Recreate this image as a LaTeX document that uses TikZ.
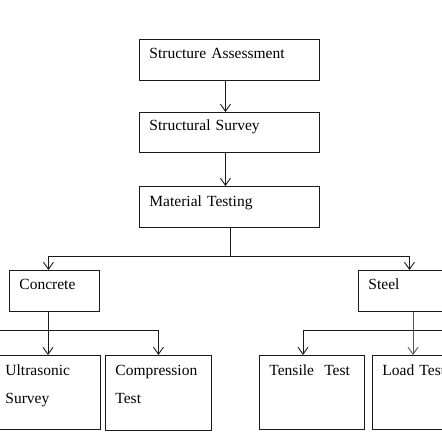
\documentclass[tikz,border=0pt]{standalone}
\usepackage{fontspec}
\setmainfont{Liberation Serif}
\usepackage{tikz}
\usetikzlibrary{arrows.meta,calc,positioning}
\definecolor{ChartInk}{HTML}{1A1A1A}
\definecolor{ChartGray}{HTML}{555555}
\tikzset{
  flow/.style={
    draw=ChartInk,
    line width=.9pt,
    anchor=north west,
    inner xsep=10pt,
    inner ysep=0pt,
    align=left,
    font=\fontsize{15.5}{28}\selectfont
  },
  single/.style={flow,text height=19pt,text depth=22pt},
  double/.style={flow,text height=20pt,text depth=54pt},
  link/.style={draw=ChartInk,line width=.9pt},
  arrow/.style={link,-{Straight Barb[length=7pt,width=10pt]}}
}
\begin{document}
\begin{tikzpicture}[x=1pt,y=-1pt]
  \useasboundingbox (0,0) rectangle (442,442);
  \fill[white] (0,0) rectangle (442,442);
  \clip (0,0) rectangle (442,442);

  % Main chain down the middle.
  \node[single,text width=160pt] (sa) at (139,39)  {Structure Assessment};
  \node[flow,text width=160pt,text height=18pt,text depth=22pt] (ss) at (139,112) {Structural Survey};
  \node[flow,text width=160pt,text height=20pt,text depth=21pt] (mt) at (139,186) {Material Testing};

  \draw[arrow] ([xshift=-4pt]sa.south) -- ([xshift=-4pt]ss.north);
  \draw[arrow] ([xshift=-4pt]ss.south) -- ([xshift=-4pt]mt.north);

  % Materials.
  \node[single,text width=70pt] (con) at (9,270)   {Concrete};
  \node[single,text width=70pt] (stl) at (358,270) {Steel};

  \coordinate (j1) at (230,256);
  \draw[link] (mt.south -| j1) -- (j1);
  \draw[arrow] (j1) -| ([xshift=-6pt]con.north);
  \draw[arrow] (j1) -| ([xshift=6pt]stl.north);

  % Tests.
  \node[double,text width=85pt] (ult) at (-5,355)  {Ultrasonic\\Survey};
  \node[flow,text width=86pt,text height=20pt,text depth=55pt] (cmp) at (105,355) {Compression\\Test};
  \node[double,text width=85pt] (ten) at (259,355) {Tensile~~Test};
  \node[double,text width=85pt] (lt)  at (372,355) {Load Test};

  \coordinate (j2) at (48,330);
  \coordinate (jl) at (-10,330);
  \draw[link] (con.south -| j2) -- (j2);
  \draw[arrow] (j2) -- (j2 |- ult.north);
  \draw[link] (j2) -- (jl);
  \draw[arrow] (j2) -| (cmp.north);

  \coordinate (j3) at (413,330);
  \coordinate (jr) at (452,330);
  \coordinate (t1) at (303,330);
  \draw[arrow,draw=ChartGray] (stl.south -| j3) -- (j3 |- lt.north);
  \draw[link] (jr) -- (t1);
  \draw[arrow] (t1) -- (t1 |- ten.north);
\end{tikzpicture}
\end{document}
